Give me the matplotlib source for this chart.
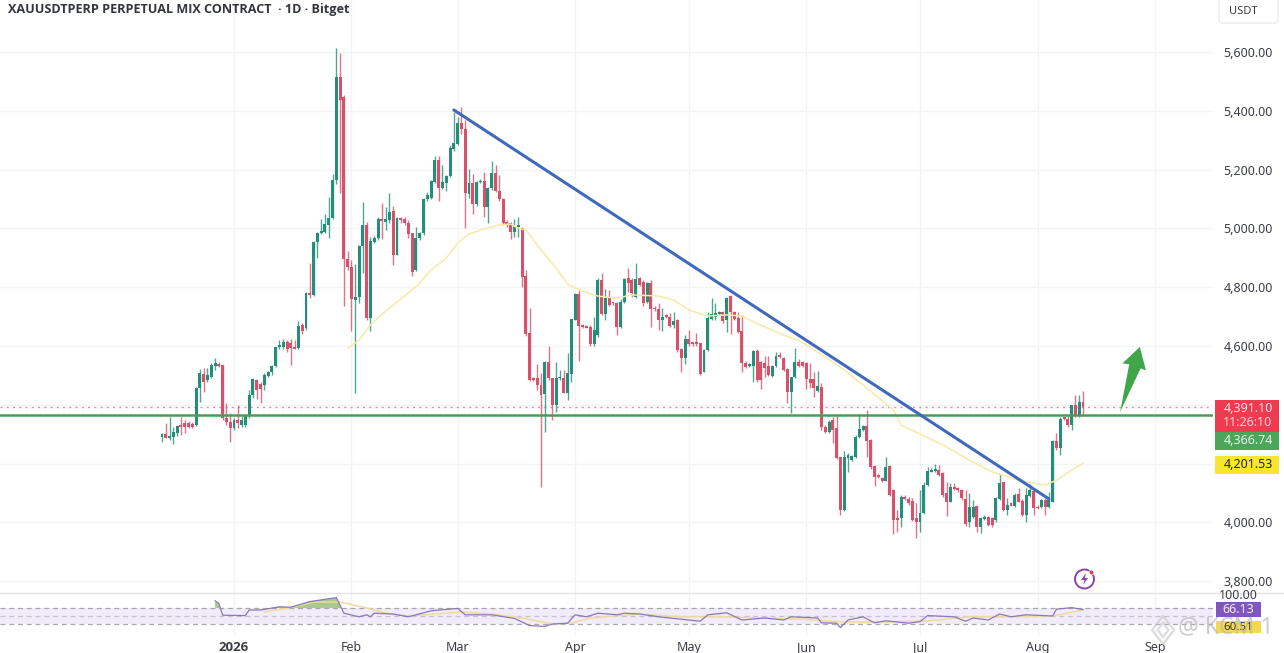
import matplotlib
matplotlib.use("Agg")
import matplotlib.pyplot as plt
import numpy as np
from matplotlib.patches import Rectangle, FancyBboxPatch, Circle, Polygon

plt.rcParams['font.family'] = ['Noto Sans', 'DejaVu Sans']

W, H = 1284, 653
first_day = -19  # days relative to 1 Jan 2026

opens = [4291,4300,4286,4292,4303,4330,4337,4337,4335,4331,4458,4504,4485,4496,4533,4539,4535,4354,4343,
 4320,4350,4331,4331,4362,4433,4484,4470,4467,4499,4510,4533,4596,4596,4615,4611,4596,4592,4672,4660,4779,
 4775,4955,4983,4988,5011,5034,5165,5516,5448,4896,4870,4758,4768,4940,5012,4694,4955,4966,5030,5023,
 5029,5060,4910,5034,5031,5019,4986,4859,4968,4983,5100,5102,5159,5233,5137,5156,5178,5269,5287,5357,
 5337,5117,5156,5083,5157,5162,5072,5136,5190,5129,5099,5023,5017,4989,5005,5000,4838,4643,4490,4492,
 4467,4437,4545,4490,4400,4490,4490,4441,4505,4689,4777,4671,4668,4666,4607,4637,4824,4709,4762,4747,
 4747,4666,4751,4830,4824,4767,4830,4819,4751,4813,4728,4725,4688,4704,4700,4671,4688,4589,4558,4623,
 4611,4611,4609,4513,4586,4693,4700,4710,4716,4688,4770,4717,4697,4652,4543,4533,4533,4584,4547,4541,
 4533,4499,4533,4569,4558,4521,4445,4493,4547,4547,4541,4487,4487,4448,4462,4326,4309,4348,4320,4221,
 4044,4218,4212,4224,4290,4314,4328,4280,4192,4161,4150,4142,4192,4110,4014,4014,4088,4079,4074,4016,
 4003,4031,4127,4173,4175,4180,4167,4099,4071,4122,4118,4110,4079,4000,4020,4056,3985,4011,4017,4014,
 4008,4079,4136,4042,4065,4057,4097,4074,4025,4090,4108,4053,4053,4078,4051,4071,4277,4252,4356,4351,
 4331,4399,4362,4411]
highs = [4305,4339,4360,4323,4331,4360,4348,4345,4340,4460,4521,4524,4524,4541,4558,4547,4537,4405,4371,
 4354,4399,4362,4362,4450,4490,4487,4479,4507,4515,4535,4596,4620,4625,4620,4625,4620,4684,4680,4785,4884,
 4957,4989,5031,5048,5108,5185,5613,5598,5455,4923,4893,4878,4942,5089,5023,4972,4975,5040,5085,5074,
 5119,5076,5040,5040,5040,5028,4986,5006,4989,5102,5125,5165,5248,5245,5216,5182,5285,5397,5380,5414,
 5369,5201,5185,5162,5168,5193,5142,5230,5216,5182,5105,5028,5023,5031,5040,5006,4860,4731,4495,4539,
 4509,4550,4600,4492,4547,4520,4518,4575,4693,4780,4790,4675,4672,4670,4700,4830,4849,4793,4790,4750,
 4750,4761,4830,4864,4830,4883,4836,4824,4819,4824,4735,4745,4731,4710,4713,4717,4692,4592,4637,4654,
 4615,4643,4612,4590,4717,4762,4745,4720,4720,4768,4773,4720,4717,4705,4550,4542,4586,4589,4550,4566,
 4566,4536,4580,4580,4564,4524,4496,4592,4555,4550,4545,4543,4513,4516,4475,4330,4348,4357,4362,4224,
 4244,4235,4230,4297,4369,4333,4382,4283,4195,4165,4155,4221,4195,4113,4042,4093,4093,4085,4082,4065,
 4110,4139,4190,4185,4199,4197,4172,4139,4133,4133,4122,4115,4110,4101,4078,4060,4018,4025,4022,4018,
 4088,4165,4139,4082,4070,4099,4116,4080,4116,4130,4112,4058,4080,4082,4102,4282,4303,4357,4360,4364,
 4401,4433,4433,4448]
lows = [4275,4286,4280,4267,4294,4296,4303,4322,4322,4328,4411,4445,4478,4490,4520,4530,4348,4331,4275,
 4316,4320,4323,4323,4354,4422,4419,4405,4450,4495,4500,4530,4590,4590,4580,4535,4590,4590,4640,4655,4762,
 4770,4901,4980,4985,4966,5031,5150,5122,4735,4860,4650,4440,4745,4847,4690,4650,4950,4960,4964,4995,
 5020,4875,4908,5020,5010,4966,4838,4856,4960,4978,5095,5100,5155,5094,5133,5127,5175,5265,5285,5320,
 5000,5102,5049,5075,5155,5040,5020,5130,5125,5095,5012,5005,4963,4970,4972,4800,4635,4480,4480,4450,
 4122,4309,4484,4348,4377,4485,4440,4416,4479,4687,4550,4660,4660,4600,4600,4632,4705,4690,4735,4740,
 4637,4663,4745,4785,4768,4762,4803,4736,4745,4666,4720,4654,4652,4695,4665,4660,4580,4510,4538,4600,
 4600,4600,4500,4510,4584,4690,4690,4705,4680,4649,4640,4688,4645,4512,4524,4530,4479,4478,4453,4496,
 4498,4495,4530,4560,4515,4407,4371,4490,4530,4530,4453,4456,4425,4445,4314,4305,4305,4269,4215,4025,
 4040,4173,4208,4220,4287,4310,4224,4183,4124,4150,4138,4140,4090,3961,3968,3986,4075,4060,4005,3946,
 3968,4028,4125,4170,4172,4158,4088,4023,4068,4110,4105,4078,3988,3986,4015,3968,3963,4008,3988,3985,
 4002,4075,4038,4025,4055,4054,4068,4022,4000,4085,4025,4045,4050,4025,4048,4068,4245,4229,4348,4325,
 4314,4358,4358,4362]
closes = [4300,4288,4295,4306,4328,4326,4326,4326,4326,4458,4507,4479,4501,4535,4541,4532,4354,4343,4320,
 4350,4337,4348,4362,4433,4487,4450,4453,4501,4510,4533,4596,4602,4615,4590,4592,4591,4669,4650,4781,4773,
 4955,4985,4991,5014,5034,5165,5516,5437,4896,4870,4759,4767,4940,5012,4694,4957,4966,5031,5025,5031,
 5057,4910,5034,5028,5018,4981,4853,4968,4983,5100,5113,5161,5233,5137,5159,5178,5272,5289,5357,5337,
 5119,5156,5083,5159,5162,5072,5136,5190,5129,5099,5017,5015,4989,5006,5008,4836,4640,4484,4486,4467,
 4433,4547,4490,4400,4490,4493,4441,4507,4691,4777,4668,4666,4663,4607,4654,4824,4709,4762,4740,4745,
 4666,4751,4827,4813,4779,4827,4807,4745,4813,4725,4725,4688,4700,4700,4668,4686,4586,4558,4623,4607,
 4607,4607,4505,4586,4697,4709,4711,4716,4686,4765,4717,4691,4649,4541,4530,4538,4584,4484,4484,4524,
 4501,4533,4566,4563,4518,4445,4493,4546,4533,4533,4488,4473,4456,4464,4323,4309,4343,4314,4218,4042,
 4221,4229,4226,4292,4317,4328,4277,4187,4153,4153,4141,4190,4093,4008,4008,4088,4079,4065,4008,4003,
 4033,4127,4176,4178,4180,4161,4093,4071,4119,4114,4110,4082,3995,4054,4054,3985,4014,4017,3991,3991,
 4082,4133,4042,4059,4057,4093,4071,4025,4093,4110,4048,4048,4076,4053,4076,4277,4252,4351,4351,4331,
 4399,4362,4411,4391.1]

ma_days = [30,33,36,40,44,48,52,56,59,62,66,70,73,75,77,81,85,88,91,96,101,105,112,116,120,125,130,134,140,147,149,
           158,161,167,174,176,181,188,194,200,207,214,217,221,224]
ma_values = [4593,4620,4672,4719,4760,4801,4859,4899,4950,4981,4998,5012,5015,5001,4995,4927,4865,4811,4791,4770,4763,
             4774,4770,4757,4723,4702,4706,4702,4665,4627,4620,4546,4518,4457,4382,4331,4301,4257,4212,4172,4144,4127,
             4144,4178,4201.53]

trend_days = [58, 215]
trend_prices = [5403, 4080]

arrow_days = [233.8, 236.2, 234.4, 239, 240.6, 239.2]
arrow_prices = [4376, 4538, 4541, 4597, 4517, 4524]

rsi_days = [-5,-4,-3,3,4,7,12,15,20,27,29,33,35,36,37,42,46,52,59,61,68,74,78,82,84,88,90,93,96,101,103,107,112,118,
            123,125,130,134,140,145,147,154,155,159,160,162,166,169,172,178,181,183,190,193,195,199,202,205,209,216,
            217,221,224]
rsi_values = [88,82,52,51,65,65,73,72,86,96,57,48,53,48,57,55,48,63,69,53,53,44,26,24,30,32,53,48,57,53,57,55,48,42,
              37,53,58,40,45,40,48,45,33,32,21,40,48,33,38,32,36,51,48,37,45,40,55,48,53,50,67,71,66.13]
rsima_days = [8,16,21,28,35,42,47,60,68,76,84,89,94,107,118,129,140,150,161,172,183,194,205,216,224]
rsima_values = [60,73,85,85,70,53,51,60,55,45,30,32,45,55,48,48,45,42,35,35,38,48,48,50,65]

month_days = [0,31,59,90,120,151,181,212,243]
month_labels = ["2026","Feb","Mar","Apr","May","Jun","Jul","Aug","Sep"]
price_ticks = [3800,4000,4200,4400,4600,4800,5000,5200,5400,5600]
visible_price_labels = [3800,4000,4600,4800,5000,5200,5400,5600]

GREEN = "#238f7a"; RED = "#d9506a"; TEXT = "#3a3d45"; GRID = "#f3f4f6"
BOLD = ["Open Sans", "DejaVu Sans"]

fig = plt.figure(figsize=(W/100, H/100), dpi=100, facecolor="white")
right = 1213/W
ax = fig.add_axes([0, (H-593)/H, right, 593/H])
axr = fig.add_axes([0, (H-636)/H, right, 43/H])

xlim = (-61.74, 258.3)
days = np.arange(first_day, first_day+len(opens))
o, h, l, c = map(np.asarray, (opens, highs, lows, closes))
up = c >= o
colors = np.where(up, GREEN, RED)

ax.set_xlim(*xlim); ax.set_ylim(3760, 5777)
ax.set_facecolor("white")
ax.set_xticks(month_days); ax.set_yticks(price_ticks)
ax.grid(True, color=GRID, lw=1); ax.set_axisbelow(True)
ax.tick_params(length=0, labelbottom=False, labelleft=False, labelright=True, pad=7.5, labelsize=9, labelcolor=TEXT)
ax.yaxis.tick_right()
ax.set_yticklabels([f"{p:,.2f}" if p in visible_price_labels else "" for p in price_ticks])
for s in ax.spines.values():
    s.set_visible(False)

ax.vlines(days, l, h, colors=colors, lw=1.0, zorder=3, alpha=0.8)
ax.bar(days, np.maximum(np.abs(c-o), 6), bottom=np.minimum(o, c), width=0.78, color=colors, lw=0, zorder=4)

ax.plot(ma_days, ma_values, color="#f6eaa6", lw=1.1, zorder=5)
ax.axhline(4391.1, color="#e88a98", lw=1, ls=(0, (1.5, 3)), zorder=2)
ax.axhline(4366.74, color="#4f9a5a", lw=1.8, zorder=5)
ax.plot(trend_days, trend_prices, color="#3f69bd", lw=2.2, zorder=6, solid_capstyle="round")
ax.fill(arrow_days, arrow_prices, color="#3fa64a", lw=0, zorder=6)

# RSI pane
axr.set_xlim(*xlim); axr.set_ylim(0, 107.5)
for s in axr.spines.values():
    s.set_visible(False)
axr.set_xticks(month_days); axr.set_xticklabels(month_labels, fontsize=9, color=TEXT)
lab0 = axr.get_xticklabels()[0]
lab0.set_fontweight("bold"); lab0.set_family(BOLD); lab0.set_fontsize(9.5)
axr.tick_params(axis="x", length=0, pad=3.5)
axr.set_yticks([])
axr.grid(True, axis="x", color=GRID, lw=1); axr.set_axisbelow(True)
axr.axhspan(30, 70, color="#f1ecf9", lw=0)
for lev in (30, 50, 70):
    axr.axhline(lev, color="#9a9aa2", lw=0.9, ls=(0, (4, 3)), alpha=0.85 if lev != 50 else 0.5)
rd = np.asarray(rsi_days, float); rv = np.asarray(rsi_values, float)
axr.fill_between(rd, rv, 70, where=rv >= 70, interpolate=True, color="#a9c98f", lw=0, zorder=3)
axr.plot(rsima_days, rsima_values, color="#f0d9a0", lw=1.1, zorder=3)
axr.plot(rd, rv, color="#8b78b8", lw=0.9, zorder=4)

# overlay in pixel space for chart furniture
ov = fig.add_axes([0, 0, 1, 1], facecolor="none")
ov.set_xlim(0, W); ov.set_ylim(H, 0); ov.axis("off")
ov.plot([0, W], [593, 593], color="#e3e4e8", lw=1)
ov.text(8, 10, "XAUUSDTPERP PERPETUAL MIX CONTRACT  · 1D · Bitget", fontsize=9.05, fontweight="bold",
        family=BOLD, color="#33363d", va="center", ha="left")
ov.add_patch(FancyBboxPatch((1219, -6), 59, 29, boxstyle="round,pad=0,rounding_size=3", fc="white", ec="#ececee", lw=1))
ov.text(1243, 12, "USDT", fontsize=8, color=TEXT, ha="center", va="center")

def tag(y0, y1, fc, x0=1215, x1=1279):
    ov.add_patch(Rectangle((x0, y0), x1-x0, y1-y0, fc=fc, lw=0))

tag(400, 432, "#ee3b4f")
ov.text(1248, 408, "4,391.10", color="#fbe3e5", fontsize=9, ha="center", va="center")
ov.text(1248, 423, "11:26:10", color="#fbd5d8", fontsize=9, ha="center", va="center")
tag(432, 450, "#4ca65a")
ov.text(1248, 441, "4,366.74", color="#e6f4e7", fontsize=9, ha="center", va="center")
tag(456, 474, "#f7e52f")
ov.text(1248, 465, "4,201.53", color="#26262a", fontsize=9, ha="center", va="center")

t100 = ov.text(1238, 595.5, "100.00", color=TEXT, fontsize=9, ha="center", va="center")
t100.set_clip_path(Rectangle((1200, 593.5), 84, 30, transform=ov.transData))
tag(602, 617, "#7e57c2", 1216, 1261)
ov.text(1238, 609.5, "66.13", color="#f3eefb", fontsize=9, ha="center", va="center")
tag(621, 633, "#f7d84a", 1216, 1261)
ov.text(1238, 627, "60.51", color="#3a3a30", fontsize=8.3, ha="center", va="center")

# lightning icon
ov.add_patch(Circle((1084.5, 579), 9.5, fc="white", ec="#8e44ad", lw=1.4))
ov.add_patch(Polygon([(1086, 573), (1081, 580), (1084.5, 580), (1083, 585), (1088, 578), (1084.8, 578)], fc="#8e44ad", lw=0))
ov.add_patch(Circle((1091.5, 572.5), 2.4, fc="#d8434f", ec="white", lw=0.5))

# watermark
for rx, ry in ((11, 14), (5.5, 7)):
    ov.add_patch(Polygon([(1163, 630-ry), (1163+rx, 630), (1163, 630+ry), (1163-rx, 630)], fc="none", ec="#c6c6ca", lw=1.6, alpha=0.6))
ov.text(1178, 627, "@ KCM 1", color="#b9b9bd", fontsize=16.5, ha="left", va="center", alpha=0.7)

fig.savefig("out.png", dpi=100)
